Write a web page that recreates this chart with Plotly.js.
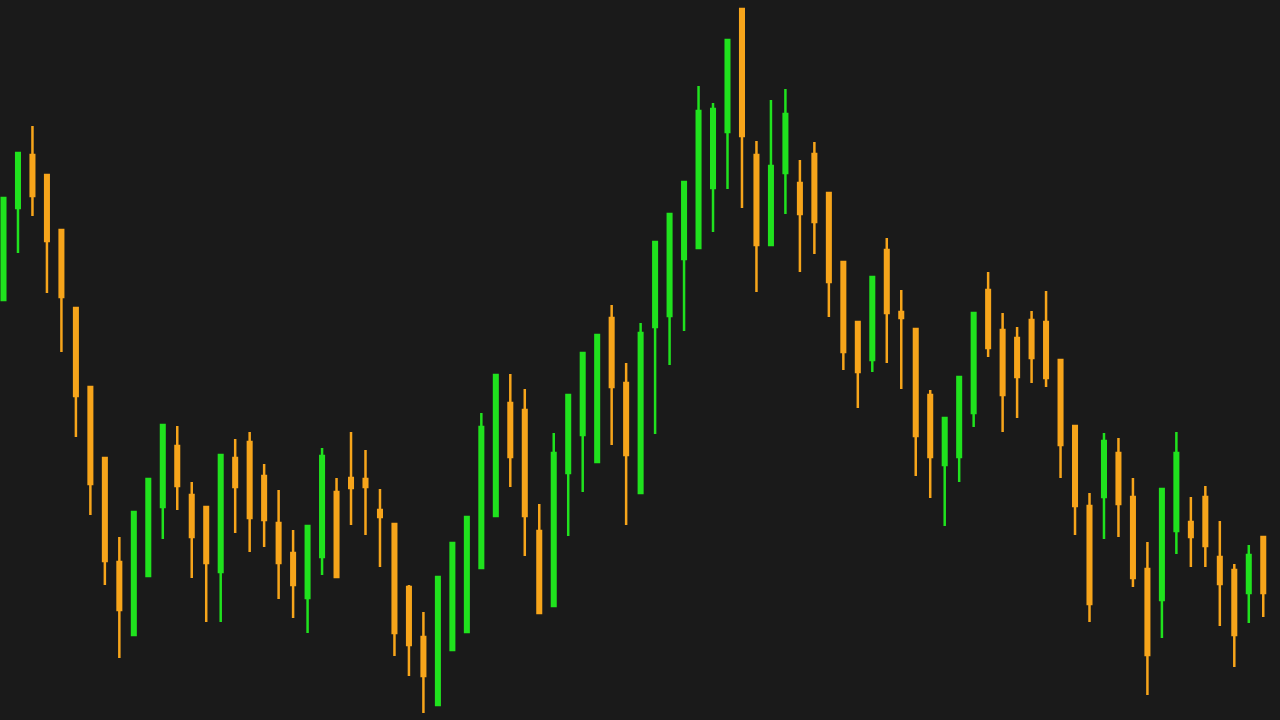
<!DOCTYPE html>
<html>
<head>
<meta charset="utf-8">
<script src="https://cdn.plot.ly/plotly-3.0.1.min.js"></script>
<style>
  html, body { margin: 0; padding: 0; background: #1a1a1a; }
  #chart { width: 1280px; height: 720px; }
</style>
</head>
<body>
<div id="chart"></div>
<script>
// Candle index (session number)
const sessions = Array.from({length: 88}, (_, i) => i + 1);

const openPrices = [
  420, 512, 565, 545, 490, 412, 333, 262, 158, 85,
  144, 213, 274, 225, 213, 148, 262, 278, 244, 197,
  167, 122, 163, 228, 242, 241, 210, 196, 133, 83,
  15, 70, 88, 152, 204, 317, 310, 189, 114, 247,
  285, 258, 402, 337, 227, 393, 404, 461, 472, 532,
  588, 711, 565, 475, 547, 537, 566, 527, 458, 398,
  360, 470, 408, 391, 325, 255, 263, 307, 430, 390,
  382, 400, 398, 360, 294, 214, 223, 267, 223, 151,
  120, 189, 198, 223, 163, 150, 127, 183
];
const highPrices = [
  522, 567, 594, 545, 490, 412, 333, 262, 183, 208,
  241, 295, 294, 238, 213, 265, 281, 288, 256, 230,
  190, 194, 272, 242, 288, 270, 231, 196, 135, 108,
  143, 177, 203, 307, 345, 346, 331, 216, 287, 325,
  367, 385, 415, 357, 397, 478, 506, 538, 634, 617,
  680, 711, 579, 620, 631, 560, 578, 527, 458, 398,
  443, 482, 430, 391, 330, 302, 343, 407, 448, 407,
  393, 409, 429, 360, 294, 227, 287, 282, 242, 178,
  231, 288, 223, 234, 199, 156, 175, 183
];
const lowPrices = [
  420, 467, 504, 427, 368, 283, 205, 135, 62, 85,
  144, 181, 210, 142, 98, 98, 187, 168, 173, 121,
  102, 87, 145, 143, 195, 185, 153, 64, 44, 7,
  15, 70, 88, 152, 204, 233, 164, 107, 114, 184,
  228, 258, 275, 195, 227, 286, 355, 389, 472, 488,
  531, 512, 428, 475, 506, 448, 466, 403, 350, 312,
  348, 357, 331, 244, 222, 194, 238, 293, 363, 288,
  302, 337, 333, 242, 185, 98, 181, 183, 133, 25,
  82, 166, 153, 153, 94, 53, 97, 103
];
const closePrices = [
  522, 567, 524, 479, 423, 324, 236, 159, 110, 208,
  241, 295, 234, 183, 157, 265, 233, 202, 200, 157,
  135, 194, 264, 143, 232, 233, 203, 87, 75, 44,
  143, 177, 203, 293, 345, 263, 204, 107, 267, 325,
  367, 385, 333, 265, 387, 478, 506, 538, 609, 611,
  680, 584, 475, 554, 606, 506, 498, 438, 368, 348,
  443, 407, 402, 284, 263, 302, 343, 407, 372, 325,
  343, 362, 342, 275, 214, 116, 279, 216, 142, 65,
  231, 267, 183, 174, 136, 85, 165, 127
];

const upColor = '#20e21e';
const downColor = '#f7a51b';
const bgColor = '#1a1a1a';

const trace = {
  type: 'candlestick',
  x: sessions,
  open: openPrices,
  high: highPrices,
  low: lowPrices,
  close: closePrices,
  increasing: { line: { color: upColor, width: 2.5 }, fillcolor: upColor },
  decreasing: { line: { color: downColor, width: 2.5 }, fillcolor: downColor },
  whiskerwidth: 0,
  hoverinfo: 'x+y'
};

// Horizontal view: first candle near the left edge, last near the right edge
const pxPerSession = 14.48;
const left = 1 - 3.5 / pxPerSession;
const right = left + 1280 / pxPerSession;

const layout = {
  width: 1280,
  height: 720,
  margin: { l: 0, r: 0, t: 0, b: 0, pad: 0 },
  paper_bgcolor: bgColor,
  plot_bgcolor: bgColor,
  showlegend: false,
  boxgap: 0.65,
  xaxis: {
    range: [left, right],
    visible: false,
    showgrid: false,
    zeroline: false,
    rangeslider: { visible: false }
  },
  yaxis: {
    range: [0, 720],
    visible: false,
    showgrid: false,
    zeroline: false
  }
};

Plotly.newPlot('chart', [trace], layout, { displayModeBar: false, staticPlot: true });
</script>
</body>
</html>
